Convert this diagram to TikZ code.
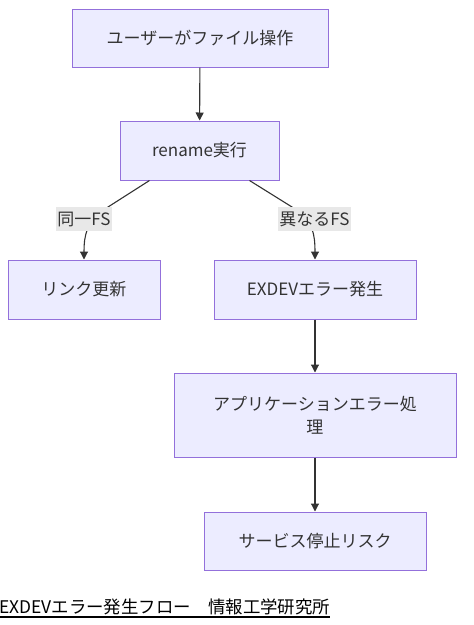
\documentclass[tikz,border=0pt]{standalone}
\usepackage{fontspec}
\setmainfont{Noto Sans CJK JP}
\usetikzlibrary{arrows.meta}
\definecolor{boxfill}{HTML}{ECECFF}
\definecolor{boxline}{HTML}{9370DB}
\definecolor{txt}{HTML}{333333}
\definecolor{lblbg}{HTML}{E8E8E8}
\tikzset{
  box/.style={draw=boxline, fill=boxfill, line width=1pt, inner sep=0pt, text=txt, font=\fontsize{17}{23}\selectfont, align=center},
  arr/.style={draw=txt, line width=1.1pt, -{Triangle[length=8pt,width=8pt]}},
  lbl/.style={fill=lblbg, inner sep=1pt, text=txt, font=\fontsize{17}{20}\selectfont, minimum height=24pt}
}
\begin{document}
\begin{tikzpicture}[x=1pt,y=-1pt]
\useasboundingbox (0,0) rectangle (474,625);
\node[box, minimum width=256pt, minimum height=58pt] (b1) at (200,38) {ユーザーがファイル操作};
\node[box, minimum width=159pt, minimum height=59pt] (b2) at (199.5,150.5) {rename実行};
\node[box, minimum width=152pt, minimum height=59pt] (b3) at (84,289.5) {リンク更新};
\node[box, minimum width=202pt, minimum height=59pt] (b4) at (315,289.5) {EXDEVエラー発生};
\node[box, minimum width=282pt, minimum height=84pt] (b5) at (315,415) {アプリケーションエラー処\\理};
\node[box, minimum width=222pt, minimum height=58pt] (b6) at (315,541) {サービス停止リスク};
\draw[arr] (b1) -- (b2);
\draw[arr] ([xshift=-50pt]b2.south) -- (108,207) .. controls (86,221) and (84,236) .. (b3.north);
\draw[arr] ([xshift=50pt]b2.south) -- (292,207) .. controls (314,221) and (315,236) .. (b4.north);
\node[lbl] (l1) at (84,219) {同一FS};
\node[lbl] (l2) at (314.5,219) {異なるFS};
\draw[arr] (b4) -- (b5);
\draw[arr] (b5) -- (b6);
\node[anchor=west, inner sep=0pt, font=\fontsize{17.4}{20}\selectfont] (title) at (-1,607) {EXDEVエラー発生フロー　情報工学研究所};
\coordinate (u1) at (0,617);
\draw[line width=1.2pt] (u1) -- (u1 -| title.east);
\end{tikzpicture}
\end{document}
